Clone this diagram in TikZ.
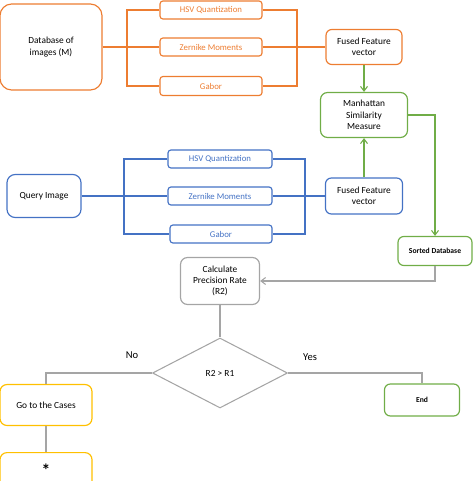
\documentclass[tikz,border=0pt]{standalone}
\usepackage{fontspec}
\setmainfont{Carlito}
\usetikzlibrary{shapes.geometric,arrows.meta}

\definecolor{offorange}{RGB}{237,125,49}
\definecolor{offblue}{RGB}{68,114,196}
\definecolor{offgreen}{RGB}{112,173,71}
\definecolor{offgray}{RGB}{165,165,165}
\definecolor{offyellow}{RGB}{255,192,0}

\begin{document}
\begin{tikzpicture}[x=0.03cm, y=-0.03cm,
    box/.style={draw, line width=1pt, rounded corners=5pt, align=center,
      inner sep=1pt, font=\fontsize{8}{9.6}\selectfont},
    subbox/.style={draw, line width=1pt, rounded corners=2.5pt, align=center,
      inner sep=1pt, font=\fontsize{7.5}{8.5}\selectfont},
    link/.style={line width=0.9pt},
    flow/.style={line width=0.9pt, -{Straight Barb[length=4pt,width=6pt]}}]
    % one unit = one pixel of the 474 x 481 layout
    \def\px{0.03cm}
    \useasboundingbox (0,0) rectangle (474,481);

    % Database side (orange)
    \node[box, offorange, text=black, rounded corners=10pt,
      minimum width=102*\px, minimum height=86*\px] (db) at (51,47) {Database of\\images (M)};
    \node[subbox, offorange, minimum width=102*\px, minimum height=18*\px] (hsv1) at (211,10) {HSV Quantization};
    \node[subbox, offorange, minimum width=102*\px, minimum height=18*\px] (zer1) at (211,47) {Zernike Moments};
    \node[subbox, offorange, minimum width=102*\px, minimum height=19*\px] (gab1) at (211,86) {Gabor};
    \node[box, offorange, text=black, minimum width=76*\px, minimum height=35*\px] (fus1) at (364,47) {Fused Feature\\vector};
    \coordinate (obusl) at (127,47);
    \coordinate (obusr) at (297,47);
    \draw[link, offorange] (db.east) -- (zer1.west);
    \draw[link, offorange] (hsv1.west) -| (obusl) |- (gab1.west);
    \draw[link, offorange] (zer1.east) -- (fus1.west);
    \draw[link, offorange] (hsv1.east) -| (obusr) |- (gab1.east);

    % Query side (blue)
    \node[box, offblue, text=black, rounded corners=7pt,
      minimum width=74*\px, minimum height=43*\px] (qry) at (44,196) {Query Image};
    \node[subbox, offblue, minimum width=104*\px, minimum height=18*\px] (hsv2) at (220,159) {HSV Quantization};
    \node[subbox, offblue, minimum width=104*\px, minimum height=18*\px] (zer2) at (220,196) {Zernike Moments};
    \node[subbox, offblue, minimum width=102*\px, minimum height=18*\px] (gab2) at (221,234) {Gabor};
    \node[box, offblue, text=black, minimum width=77*\px, minimum height=36*\px] (fus2) at (364,196) {Fused Feature\\vector};
    \coordinate (bbusl) at (124,196);
    \coordinate (bbusr) at (305,196);
    \draw[link, offblue] (qry.east) -- (zer2.west);
    \draw[link, offblue] (hsv2.west) -| (bbusl) |- (gab2.west);
    \draw[link, offblue] (zer2.east) -- (fus2.west);
    \draw[link, offblue] (hsv2.east) -| (bbusr) |- (gab2.east);

    % Matching (green)
    \node[box, offgreen, text=black, rounded corners=6pt,
      minimum width=87*\px, minimum height=45*\px] (man) at (364,115) {Manhattan\\Similarity\\Measure};
    \node[box, offgreen, text=black, font=\fontsize{6.5}{8}\selectfont\bfseries,
      minimum width=74*\px, minimum height=29*\px] (sorted) at (435,251) {Sorted Database};
    \draw[flow, offgreen] (fus1.south) -- (man.north);
    \draw[flow, offgreen] (fus2.north) -- (man.south);
    \draw[flow, offgreen] (man.east) -| (sorted.north);

    % Decision (gray)
    \node[box, offgray, text=black, rounded corners=6pt,
      minimum width=79*\px, minimum height=47*\px] (calc) at (220,281) {Calculate\\Precision Rate\\(R2)};
    \node[diamond, draw=offgray, line width=0.9pt, inner sep=0pt, font=\fontsize{8}{9.6}\selectfont,
      minimum width=135*\px, minimum height=70*\px] (cmp) at (220,373) {R2 > R1};
    \draw[flow, offgray] (sorted.south) |- (calc.east);
    \draw[link, offgray] (calc.south) -- (cmp.north);

    % Outcomes
    \node[box, offyellow, text=black, rounded corners=6pt,
      minimum width=92*\px, minimum height=41*\px] (cases) at (46,405) {Go to the Cases};
    \node[box, offyellow, text=black, rounded corners=6pt, font=\fontsize{15}{16}\selectfont\bfseries,
      minimum width=92*\px, minimum height=36*\px, anchor=north] (star) at (46,452) {\raisebox{-0.2ex}{*}};
    \node[box, offgreen, text=black, font=\fontsize{6.5}{8}\selectfont\bfseries,
      minimum width=75*\px, minimum height=32*\px] (end) at (422,400) {End};
    \draw[link, offgray] (cmp.west) -| (cases.north);
    \draw[link, offgray] (cases.south) -- (star.north);
    \draw[link, offgray] (cmp.east) -| (end.north);
    \node[font=\fontsize{9}{10}\selectfont] (nolbl) at (132,355) {No};
    \node[font=\fontsize{9}{10}\selectfont] (yeslbl) at (310,357) {Yes};
\end{tikzpicture}
\end{document}
